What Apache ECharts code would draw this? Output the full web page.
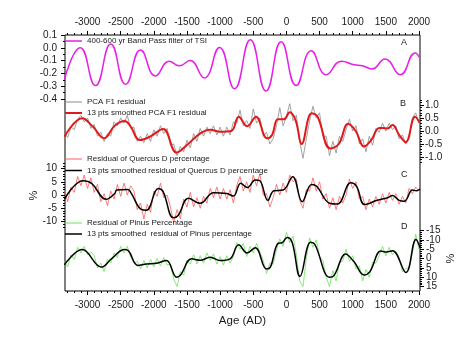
<!DOCTYPE html>
<html><head><meta charset="utf-8">
<script src="https://cdn.jsdelivr.net/npm/echarts@6/dist/echarts.min.js"></script>
<style>html,body{margin:0;padding:0;background:#fff}#c{width:474px;height:356px}</style>
</head><body><div id="c"></div>
<script>
// ---------- data ----------
const tsiYears = [-3350,-3110,-2880,-2650,-2425,-2200,-1975,-1770,-1615,-1455,-1240,-1010,-783,-545,-308,-80,147,374,601,829,1020,1147,1288,1489,1717,1944,2005];
const tsiValues = [-0.25,0.0,-0.295,0.03,-0.285,-0.018,-0.22,-0.105,-0.14,-0.10,-0.235,0.003,-0.32,0.062,-0.338,0.047,-0.295,-0.023,-0.21,-0.105,-0.132,-0.14,-0.165,-0.088,-0.21,-0.04,-0.075];

const rawYears = [-3350,-3300,-3250,-3200,-3150,-3100,-3050,-3000,-2950,-2900,-2850,-2800,-2750,-2700,-2650,-2600,-2550,-2500,-2450,-2400,-2350,-2300,-2250,-2200,-2150,-2100,-2050,-2000,-1950,-1900,-1850,-1800,-1750,-1700,-1650,-1600,-1550,-1500,-1450,-1400,-1350,-1300,-1250,-1200,-1150,-1100,-1050,-1000,-950,-900,-850,-800,-750,-700,-650,-600,-550,-500,-450,-400,-350,-300,-250,-200,-150,-100,-50,0,50,100,150,200,250,300,350,400,450,500,550,600,650,700,750,800,850,900,950,1000,1050,1100,1150,1200,1250,1300,1350,1400,1450,1500,1550,1600,1650,1700,1750,1800,1850,1900,1950,2000];

const pcaRaw = [-0.05,-0.25,0.15,0.05,0.45,0.6,0.35,0.5,0.1,0.25,-0.2,-0.05,-0.4,-0.1,-0.2,0.35,0.2,0.5,0.3,0.6,0.1,0.15,-0.4,-0.2,-0.45,-0.1,-0.4,0.05,-0.2,0.2,-0.1,0.1,-0.55,-0.5,-0.95,-0.6,-0.8,-0.35,-0.65,-0.1,-0.4,0.1,-0.2,0.15,-0.1,0.2,-0.15,0.15,-0.2,0.15,-0.15,0.35,0.3,0.8,0.2,0.4,0.1,0.85,0.3,0.5,-0.2,-0.05,-0.5,-0.3,0.2,0.9,0.2,0.55,1.05,0.4,0.6,-0.4,-1.05,-0.3,0.4,0.95,0.5,0.7,-0.2,-0.2,-0.95,-0.4,-0.85,-0.2,-0.4,0.05,0.45,0.0,0.2,-0.5,-0.3,-0.8,-0.2,-0.55,0.1,-0.05,0.3,0.0,0.3,0.05,0.2,-0.3,-0.15,-0.5,-0.25,0.5,0.7,0.3];
const pcaSmoothYears = [-3350,-3080,-2920,-2750,-2590,-2440,-2360,-2210,-2060,-1860,-1656,-1500,-1300,-1150,-1000,-830,-720,-590,-460,-293,-217,-130,-40,50,140,230,380,470,660,790,930,1045,1171,1280,1400,1525,1600,1700,1800,1940,2010];
const pcaSmooth = [-0.22,0.49,0.17,-0.28,0.20,0.38,0.22,-0.35,-0.22,0.08,-0.83,-0.54,-0.09,0.05,-0.03,0.0,0.55,0.18,0.55,-0.28,-0.15,0.45,0.45,0.72,0.40,-0.5,0.68,0.55,-0.67,-0.5,0.28,0.0,-0.6,-0.35,0.12,0.1,0.23,-0.15,-0.43,0.55,0.32];

const quercusRaw = [1.5,-2.5,3.0,1.0,7.0,3.5,7.5,2.5,6.5,1.0,4.0,-2.5,0.5,-4.0,1.5,-1.5,4.0,-0.5,4.5,0.0,3.5,1.5,-5.5,-3.0,-9.0,-3.5,-6.5,1.5,-0.5,4.5,-1.0,0.0,-4.5,-10.5,-5.5,-9.0,-1.5,-4.5,1.0,-4.5,-1.0,-5.0,-0.5,-3.0,2.5,-1.0,3.0,-1.5,2.5,-1.5,2.0,-3.0,3.5,7.0,1.5,5.0,1.0,7.5,3.5,8.0,0.0,0.5,-4.5,-1.0,4.0,0.0,4.5,1.0,7.5,5.0,6.0,-2.0,-5.0,2.0,1.5,6.5,1.5,5.0,-1.5,0.5,-5.0,-1.0,-5.5,-0.5,-3.0,0.0,6.0,2.5,5.0,-1.5,-0.5,-5.5,-1.5,-4.5,-0.5,-3.5,0.5,-3.0,1.0,-2.0,0.5,-3.5,-0.5,-3.0,2.5,0.5,3.0,1.5];
const quercusSmoothYears = [-3350,-3070,-2940,-2720,-2590,-2560,-2390,-2340,-2190,-2110,-1935,-1860,-1707,-1630,-1480,-1300,-1100,-900,-800,-690,-590,-470,-400,-280,-190,-50,95,238,380,460,650,770,970,1060,1180,1370,1525,1600,1700,1780,1900,1960,2015];
const quercusSmooth = [-1.6,5.4,4.4,-1.6,0.6,1.9,2.1,0.6,-5.4,-5.7,2.5,1.3,-8.6,-7.6,-1.2,-3.1,0.9,0.6,-0.4,4.4,2.8,5.7,5.4,-2.0,1.6,1.9,6.9,-2.5,4.0,3.2,-3.1,-3.4,4.6,3.2,-3.6,-2.0,-1.0,-0.2,-2.0,-2.3,1.9,1.6,2.3];

const pinusRaw = [1.5,4.5,-2.0,0.5,-6.0,-3.0,-6.5,-2.0,-3.5,-1.5,5.0,2.5,7.0,0.5,2.5,-3.0,-0.5,-6.5,-3.0,-6.5,-1.0,2.5,1.5,5.5,1.0,5.0,0.5,4.5,0.0,4.0,-0.5,3.5,3.0,11.0,15.0,7.0,9.0,1.0,3.0,-2.0,3.0,-1.5,2.5,-3.0,1.0,-2.5,3.0,-1.0,3.5,-1.5,2.5,-1.0,-8.5,-5.0,-8.0,-1.0,-6.5,-3.0,-8.0,-3.5,1.0,8.0,2.5,3.0,-4.5,-10.5,-6.5,-14.0,-8.5,-12.0,-2.0,12.0,15.0,0.0,-11.0,-6.0,-10.0,-1.0,1.0,10.0,15.0,6.5,12.0,2.0,1.5,-5.0,1.5,-1.5,5.5,4.0,12.0,6.0,10.0,2.0,2.5,-1.5,-6.5,-1.5,-6.0,-2.0,-4.0,-0.5,7.0,5.5,5.0,-3.0,-13.0,-5.0];
const pinusSmoothYears = [-3350,-3080,-2790,-2640,-2440,-2380,-2240,-2110,-1960,-1810,-1656,-1600,-1430,-1300,-1150,-1000,-850,-720,-595,-470,-300,-240,-130,-60,10,86,205,364,430,650,720,894,1020,1171,1260,1424,1510,1601,1803,1954,2020];
const pinusSmooth = [3.4,-4.8,4.6,0.2,-4.8,-4.0,3.7,2.9,2.5,1.1,10.0,9.0,0.2,1.0,-0.7,1.1,0.2,-7.3,-3.0,-5.7,5.6,4.5,-8.0,-8.5,-11.3,-8.7,9.6,-8.7,-7.5,10.0,9.0,-2.4,1.8,8.8,7.0,-4.0,-3.5,-4.2,7.5,-10.2,-5.5];

const xTicks = [-3000,-2500,-2000,-1500,-1000,-500,0,500,1000,1500,2000];
const aTicks = [0.1,0.0,-0.1,-0.2,-0.3,-0.4];
const aMinor = [0.05,-0.05,-0.15,-0.25,-0.35];
const bTicks = [1.0,0.5,0.0,-0.5,-1.0];
const cTicks = [10,5,0,-5,-10];
const dTicks = [-15,-10,-5,0,5,10,15];
const dLabelsOdd = [-15,-5,5,15];
const dLabelsEven = [-10,0,10];

const legendNames = {
  tsi: '400-600 yr Band Pass filter of TSI',
  pcaRaw: 'PCA F1 residual',
  pcaSm: '13 pts smoothed PCA F1 residual',
  qRaw: 'Residual of Quercus D percentage',
  qSm: '13 pts smoothed residual of Quercus D percentage',
  pRaw: 'Residual of Pinus Percentage',
  pSm: '13 pts smoothed  residual of Pinus percentage'
};

// ---------- helpers ----------
const zip = (xs, ys) => xs.map((x, i) => [x, ys[i]]);
const FONT = '"Liberation Sans", Arial, Helvetica, sans-serif';
const TXT = '#1a1a1a';
const XMIN = -3340, XMAX = 2015;
const minorX = [];
for (let v = -3300; v <= 2000; v += 100) if (v % 500 !== 0) minorX.push(v);
const bMinor = [];
for (let k = -12; k <= 12; k++) if (k % 5 !== 0) bMinor.push(k / 10);
const cMinor = [];
for (let k = -12; k <= 12; k++) if (k % 5 !== 0) cMinor.push(k);
const dMinor = [];
for (let k = -15; k <= 15; k++) if (k % 5 !== 0) dMinor.push(k);

const L = 65, W = 355;
const rects = {
  frame: {top: 35, height: 256},
  A: {top: 35, height: 64},
  B: {top: 97.2, height: 67.6},
  C: {top: 161.9, height: 67.6},
  D: {top: 228.6, height: 59.8}
};
const mkGrid = (r, show) => ({left: L, width: W, top: r.top, height: r.height, show: !!show,
  borderColor: '#000', borderWidth: 1, containLabel: false});
const grids = [
  mkGrid(rects.frame, true), mkGrid(rects.frame),
  mkGrid(rects.A), mkGrid(rects.B), mkGrid(rects.C), mkGrid(rects.D),
  mkGrid(rects.A), mkGrid(rects.B), mkGrid(rects.C), mkGrid(rects.D)
];
const noLine = {show: false, onZero: false};
const hiddenX = g => ({type: 'value', gridIndex: g, min: XMIN, max: XMAX, show: false, axisLine: noLine});
const labelStyle = {fontFamily: FONT, fontSize: 10, color: TXT, showMinLabel: true, showMaxLabel: true, hideOverlap: false};
const tickStyle = {color: '#000', width: 1};
const fmtInt = v => String(v);

const xAxes = [
  {type: 'value', gridIndex: 0, position: 'bottom', min: XMIN, max: XMAX,
   axisLine: noLine, splitLine: {show: false},
   axisTick: {show: true, inside: false, length: 4, lineStyle: tickStyle, customValues: xTicks},
   axisLabel: Object.assign({customValues: xTicks, margin: 9, formatter: fmtInt}, labelStyle),
   name: 'Age (AD)', nameLocation: 'middle', nameGap: 24, nameMoveOverlap: false,
   nameTextStyle: {fontFamily: FONT, fontSize: 11.5, color: TXT}},
  {type: 'value', gridIndex: 0, position: 'top', min: XMIN, max: XMAX,
   axisLine: noLine, splitLine: {show: false},
   axisTick: {show: true, inside: false, length: 4, lineStyle: tickStyle, customValues: xTicks},
   axisLabel: Object.assign({customValues: xTicks, margin: 8, formatter: fmtInt}, labelStyle)},
  {type: 'value', gridIndex: 1, position: 'bottom', min: XMIN, max: XMAX,
   axisLine: noLine, splitLine: {show: false},
   axisTick: {show: true, length: 2, lineStyle: tickStyle, customValues: minorX},
   axisLabel: {show: false}},
  {type: 'value', gridIndex: 1, position: 'top', min: XMIN, max: XMAX,
   axisLine: noLine, splitLine: {show: false},
   axisTick: {show: true, length: 2, lineStyle: tickStyle, customValues: minorX},
   axisLabel: {show: false}},
  hiddenX(2), hiddenX(3), hiddenX(4), hiddenX(5),
  hiddenX(6), hiddenX(7), hiddenX(8), hiddenX(9)
];

const fmt1 = v => v.toFixed(1);
const majorY = (g, pos, min, max, ticks, labels, fmt, margin, extra) => Object.assign({
  type: 'value', gridIndex: g, position: pos, min: min, max: max,
  axisLine: noLine, splitLine: {show: false},
  axisTick: {show: true, inside: false, length: 4, lineStyle: tickStyle, customValues: ticks},
  axisLabel: Object.assign({customValues: labels, margin: margin, formatter: fmt}, labelStyle)
}, extra || {});
const minorY = (g, pos, min, max, ticks, labels, fmt, margin, extra) => Object.assign({
  type: 'value', gridIndex: g, position: pos, min: min, max: max,
  axisLine: noLine, splitLine: {show: false},
  axisTick: {show: true, inside: false, length: 2, lineStyle: tickStyle, customValues: ticks},
  axisLabel: labels ? Object.assign({customValues: labels, margin: margin, formatter: fmt}, labelStyle) : {show: false}
}, extra || {});
const pctName = gap => ({name: '%', nameLocation: 'middle', nameGap: gap, nameRotate: 90, nameMoveOverlap: false,
  nameTextStyle: {fontFamily: FONT, fontSize: 11, color: TXT}});

const yAxes = [
  {type: 'value', gridIndex: 0, show: false, min: 0, max: 1, axisLine: noLine},
  {type: 'value', gridIndex: 1, show: false, min: 0, max: 1, axisLine: noLine},
  majorY(2, 'left', -0.4, 0.1, aTicks, aTicks, fmt1, 8),
  majorY(3, 'right', -1.3, 1.3, bTicks, bTicks, fmt1, 5),
  majorY(4, 'left', -13, 12.5, cTicks, cTicks, fmtInt, 8, pctName(26)),
  majorY(5, 'right', -16, 16, dTicks, dLabelsOdd, fmtInt, 6, Object.assign({inverse: true}, pctName(25))),
  minorY(6, 'left', -0.4, 0.1, aMinor),
  minorY(7, 'right', -1.3, 1.3, bMinor),
  minorY(8, 'left', -13, 12.5, cMinor),
  minorY(9, 'right', -16, 16, dMinor, dLabelsEven, fmtInt, 6, {inverse: true})
];

const line = (name, xi, yi, data, color, width, smooth, z) => ({
  type: 'line', name: name, xAxisIndex: xi, yAxisIndex: yi, data: data,
  symbol: 'none', smooth: smooth, lineStyle: {color: color, width: width},
  itemStyle: {color: color}, z: z, animation: false, silent: true
});

const series = [
  line(legendNames.tsi, 4, 2, zip(tsiYears, tsiValues), '#e81ee8', 1.5, 0.5, 3),
  line(legendNames.pcaRaw, 5, 3, zip(rawYears, pcaRaw), '#8a8a8a', 0.8, false, 2),
  line(legendNames.pcaSm, 5, 3, zip(pcaSmoothYears, pcaSmooth), '#e01a1a', 2, 0.4, 3),
  line(legendNames.qRaw, 6, 4, zip(rawYears, quercusRaw), '#ff5c5c', 0.8, false, 2),
  line(legendNames.qSm, 6, 4, zip(quercusSmoothYears, quercusSmooth), '#000000', 1.5, 0.4, 3),
  line(legendNames.pRaw, 7, 5, zip(rawYears, pinusRaw), '#6be35a', 0.8, false, 2),
  line(legendNames.pSm, 7, 5, zip(pinusSmoothYears, pinusSmooth), '#000000', 1.5, 0.4, 3)
];

const leg = (name, top, thick, color) => ({
  data: [name], left: 65, top: top, padding: 0, itemWidth: 17, itemHeight: thick,
  icon: 'rect', itemStyle: {color: color, borderWidth: 0},
  selectedMode: false, orient: 'horizontal',
  textStyle: {fontFamily: FONT, fontSize: 8, color: TXT, lineHeight: 10}
});
const legends = [
  leg(legendNames.tsi, 36, 1.5, '#e81ee8'),
  leg(legendNames.pcaRaw, 97, 1, '#8a8a8a'), leg(legendNames.pcaSm, 108, 2, '#e01a1a'),
  leg(legendNames.qRaw, 154, 1, '#ff5c5c'), leg(legendNames.qSm, 165.5, 1.5, '#000000'),
  leg(legendNames.pRaw, 218, 1, '#6be35a'), leg(legendNames.pSm, 229, 1.5, '#000000')
];

const panelLabel = (t, x, y) => ({type: 'text', left: x, top: y,
  style: {text: t, font: '9px "Liberation Sans", Arial, sans-serif', fill: TXT}});

const chart = echarts.init(document.getElementById('c'), null, {renderer: 'canvas'});
chart.setOption({
  animation: false,
  backgroundColor: '#fff',
  grid: grids,
  xAxis: xAxes,
  yAxis: yAxes,
  legend: legends,
  series: series,
  graphic: [
    panelLabel('A', 401, 38), panelLabel('B', 400, 99),
    panelLabel('C', 401, 170), panelLabel('D', 401, 222)
  ]
});
</script>
</body></html>
